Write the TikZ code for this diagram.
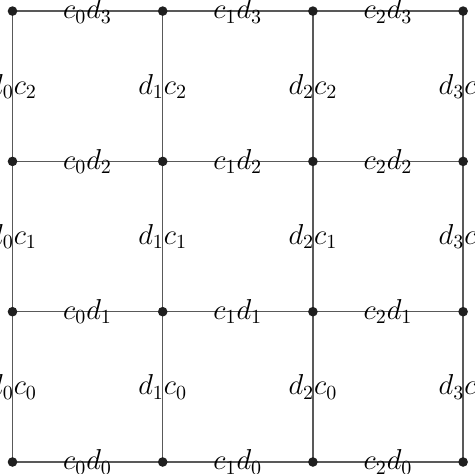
\documentclass[tikz,border=0pt]{standalone}
\begin{document}
\begin{tikzpicture}[x=0.5pt,y=0.5pt,
  edge/.style={draw=black!65, line width=0.65pt},
  dot/.style={circle, fill=black!88, inner sep=0pt, minimum size=4.8pt},
  lab/.style={inner sep=0pt, font=\fontsize{13.6}{16}\selectfont}]
\useasboundingbox (0,0) rectangle (474,474);
\foreach \i in {0,...,3}{\foreach \j in {0,...,3}{
  \coordinate (p\i\j) at ({12.5+150.2*\i},{12+150.3*\j});}}
% horizontal edges
\foreach \i in {0,1,2}{\foreach \j in {0,...,3}{
  \pgfmathtruncatemacro{\k}{\i+1}
  \draw[edge] (p\i\j) -- node[lab]{$c_{\i}d_{\j}$} (p\k\j);}}
% vertical edges
\foreach \i in {0,...,3}{\foreach \j in {0,1,2}{
  \pgfmathtruncatemacro{\k}{\j+1}
  \draw[edge] (p\i\j) -- node[lab]{$d_{\i}c_{\j}$} (p\i\k);}}
\foreach \i in {0,...,3}{\foreach \j in {0,...,3}{
  \node[dot] (n\i\j) at (p\i\j) {};}}
\end{tikzpicture}
\end{document}
